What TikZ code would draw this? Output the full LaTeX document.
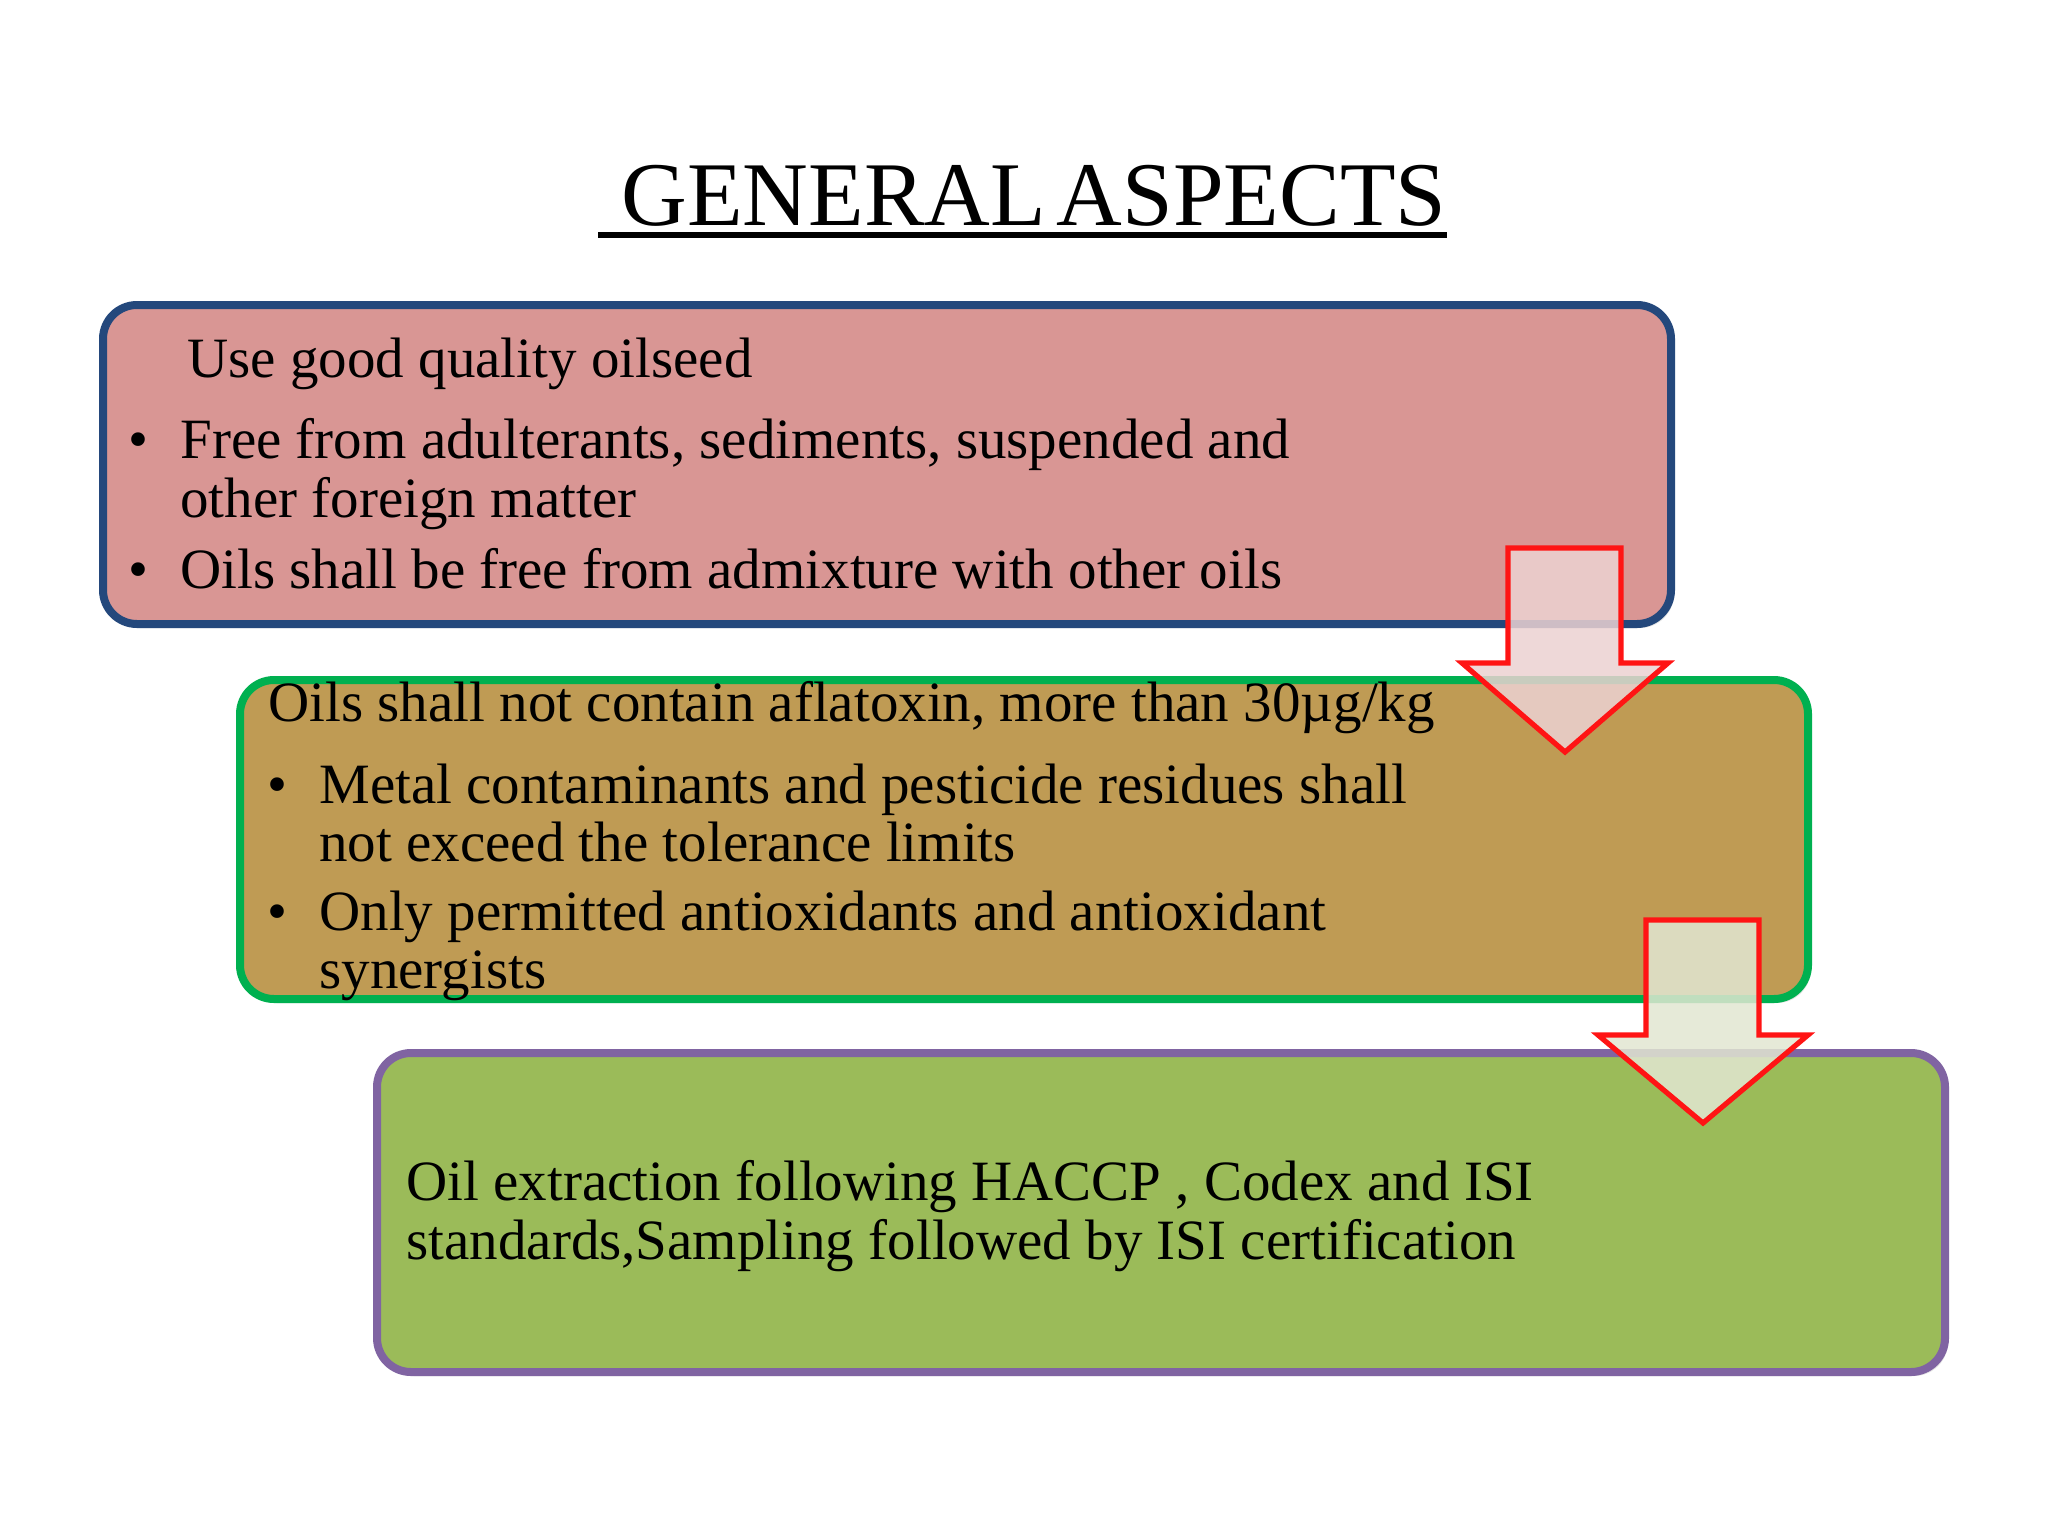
\documentclass[tikz,border=0pt]{standalone}
\usepackage{fontspec}
\setmainfont{Liberation Serif}
\usetikzlibrary{shadows}
\definecolor{bonefill}{RGB}{217,150,148}
\definecolor{boneline}{RGB}{36,72,124}
\definecolor{btwofill}{RGB}{191,155,84}
\definecolor{btwoline}{RGB}{0,176,80}
\definecolor{bthreefill}{RGB}{155,187,89}
\definecolor{bthreeline}{RGB}{128,100,162}
\definecolor{arrred}{RGB}{255,20,20}
\definecolor{aonefill}{RGB}{236,210,210}
\definecolor{atwofill}{RGB}{226,231,210}
\begin{document}
\begin{tikzpicture}[x=0.5pt,y=-0.5pt,
 box/.style={rectangle, rounded corners=17pt, line width=4pt, anchor=north west,
   minimum width=784pt, minimum height=159.5pt, inner sep=0pt,
   drop shadow={opacity=0.22,shadow xshift=1.5pt,shadow yshift=-2pt}},
 txt/.style={anchor=base west, inner sep=0pt, font=\fontsize{28.5}{28.5}\selectfont},
 bul/.style={anchor=base, inner sep=0pt, font=\fontsize{28.5}{28.5}\selectfont},
 blockarrow/.style={draw=arrred, line width=2.6pt, line join=miter, miter limit=10, fill opacity=0.85}]
\useasboundingbox[fill=white] (0,0) rectangle (2048,1536);

% title
\node[anchor=base, inner sep=0pt, font=\fontsize{45.5}{45.5}\selectfont] (title) at (1034,225) {GENERAL\hspace{0.12em}ASPECTS};
\coordinate (ulA) at (598,235);
\coordinate (ulB) at (1447,235);
\draw[line width=3pt] (ulA) -- (ulB);

% boxes
\node[box, draw=boneline, fill=bonefill] (box1) at (99,301) {};
\node[box, draw=btwoline, fill=btwofill] (box2) at (236,676) {};
\node[box, draw=bthreeline, fill=bthreefill] (box3) at (373,1049) {};

% box 1 text
\node[txt] (t11) at (187,377) {Use good quality oilseed};
\node[bul] (u12) at (138,458) {•};
\node[txt] (t12) at (180,458) {Free from adulterants, sediments, suspended and};
\node[txt] (t13) at (180,517) {other foreign matter};
\node[bul] (u14) at (138,588) {•};
\node[txt] (t14) at (180,588) {Oils shall be free from admixture with other oils};

% box 2 text
\node[txt] (t21) at (268,721) {Oils shall not contain aflatoxin, more than 30µg/kg};
\node[bul] (u22) at (277,803) {•};
\node[txt] (t22) at (319,803) {Metal contaminants and pesticide residues shall};
\node[txt] (t23) at (319,861) {not exceed the tolerance limits};
\node[bul] (u24) at (277,930) {•};
\node[txt] (t24) at (319,930) {Only permitted antioxidants and antioxidant};
\node[txt] (t25) at (319,988) {synergists};

% box 3 text
\node[txt] (t31) at (406,1200) {Oil extraction following HACCP , Codex and ISI};
\node[txt] (t32) at (406,1259) {standards,Sampling followed by ISI certification};

% block arrows
\draw[blockarrow, fill=aonefill] (1508,548) -- (1621,548) -- (1621,663) -- (1668,663)
  -- (1565,752) -- (1462,663) -- (1508,663) -- cycle;
\draw[blockarrow, fill=atwofill] (1646,920) -- (1759,920) -- (1759,1035) -- (1808,1035)
  -- (1703,1123) -- (1598,1035) -- (1646,1035) -- cycle;
\end{tikzpicture}
\end{document}
